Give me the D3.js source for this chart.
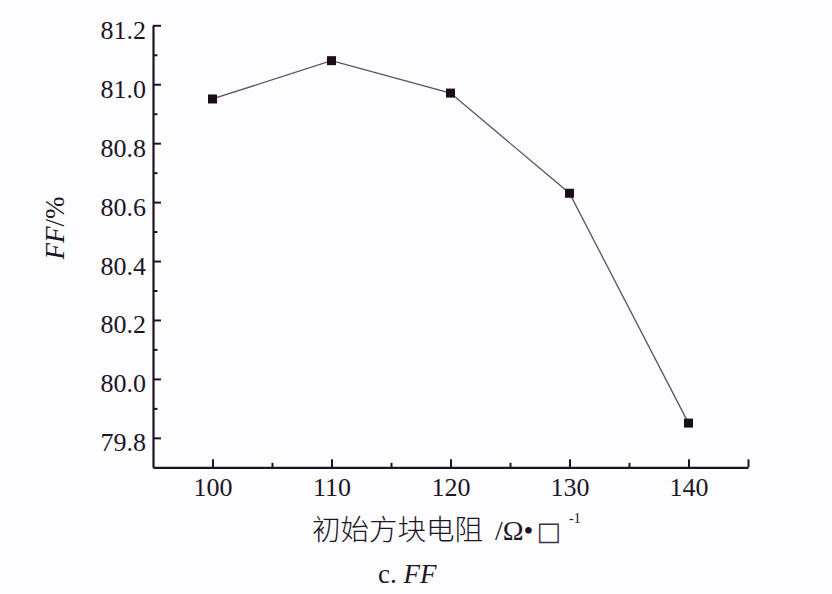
<!DOCTYPE html>
<html>
<head>
<meta charset="utf-8">
<script src="https://cdn.jsdelivr.net/npm/d3@7/dist/d3.min.js"></script>
<style>
html,body{margin:0;padding:0;background:#fdfdff;}
svg{display:block;}
</style>
</head>
<body>
<svg id="chart" width="832" height="594"></svg>
<script>
const resistance = [100, 110, 120, 130, 140];
const ffValues = [80.95, 81.08, 80.97, 80.63, 79.85];
const xMajorTicks = [100, 110, 120, 130, 140];
const xMinorTicks = [105, 115, 125, 135];
const yMajorTicks = [79.8, 80.0, 80.2, 80.4, 80.6, 80.8, 81.0, 81.2];
const yMinorTicks = [79.9, 80.1, 80.3, 80.5, 80.7, 80.9, 81.1];

const ink = "#1e1426";
const serif = "Liberation Serif";
const svg = d3.select("#chart");
const padL = 153, padR = 748, padT = 25.3, padB = 467.3;

const x = d3.scaleLinear().domain([95, 145]).range([padL, padR]);
const y = d3.scaleLinear().domain([79.7, 81.2]).range([padB, padT]);

// Y axis
const yAxis = svg.append("g").attr("transform", `translate(${padL},0)`)
  .call(d3.axisLeft(y).tickValues(yMajorTicks).tickFormat(d3.format(".1f"))
    .tickSizeInner(-8).tickSizeOuter(0).tickPadding(7));
yAxis.select(".domain").attr("stroke", ink).attr("stroke-width", 2.2);
yAxis.selectAll(".tick line").attr("stroke", ink).attr("stroke-width", 2);
yAxis.selectAll(".tick text").attr("fill", ink).attr("dy", "0.5em")
  .style("font-family", serif).style("font-size", "26px");

svg.append("g").attr("transform", `translate(${padL},0)`)
  .call(d3.axisLeft(y).tickValues(yMinorTicks).tickFormat("").tickSizeInner(-4.5).tickSizeOuter(0))
  .call(g => g.select(".domain").remove())
  .call(g => g.selectAll(".tick line").attr("stroke", ink).attr("stroke-width", 2));

// X axis
const xAxis = svg.append("g").attr("transform", `translate(0,${padB})`)
  .call(d3.axisBottom(x).tickValues(xMajorTicks).tickFormat(d3.format("d"))
    .tickSizeInner(-8).tickSizeOuter(0).tickPadding(10));
xAxis.select(".domain").attr("stroke", ink).attr("stroke-width", 2.2);
xAxis.selectAll(".tick line").attr("stroke", ink).attr("stroke-width", 2);
xAxis.selectAll(".tick text").attr("fill", ink)
  .style("font-family", serif).style("font-size", "26px");

svg.append("g").attr("transform", `translate(0,${padB})`)
  .call(d3.axisBottom(x).tickValues(xMinorTicks).tickFormat("").tickSizeInner(-4.5).tickSizeOuter(0))
  .call(g => g.select(".domain").remove())
  .call(g => g.selectAll(".tick line").attr("stroke", ink).attr("stroke-width", 2));

svg.append("g").attr("transform", `translate(0,${padB})`)
  .call(d3.axisBottom(x).tickValues([145]).tickFormat("").tickSizeInner(-8).tickSizeOuter(0))
  .call(g => g.select(".domain").remove())
  .call(g => g.selectAll(".tick line").attr("stroke", ink).attr("stroke-width", 2));

// Line
const pts = resistance.map((r, i) => [r, ffValues[i]]);
svg.append("path").datum(pts)
  .attr("fill", "none").attr("stroke", "#58525c").attr("stroke-width", 1.3)
  .attr("d", d3.line().x(d => x(d[0])).y(d => y(d[1])));

// Markers
const ms = 9;
svg.selectAll("rect.m").data(pts).enter().append("rect")
  .attr("class", "m")
  .attr("x", d => x(d[0]) - ms / 2).attr("y", d => y(d[1]) - ms / 2)
  .attr("width", ms).attr("height", ms).attr("fill", "#1a0e18");

// Y title
const yt = svg.append("text")
  .attr("transform", "translate(64,228) rotate(-90)")
  .attr("text-anchor", "middle").attr("fill", ink)
  .style("font-family", serif).style("font-size", "27px");
yt.append("tspan").style("font-style", "italic").text("FF");
yt.append("tspan").text("/%");

// X title
const xt = svg.append("text").attr("x", 312).attr("y", 540).attr("fill", ink);
xt.append("tspan").style("font-family", "Noto Sans CJK SC")
  .style("font-size", "28.5px").style("font-weight", "300").text("初始方块电阻");
xt.append("tspan").style("font-family", serif).style("font-size", "28px")
  .attr("dx", 12).text("/Ω•");
xt.append("tspan").style("font-family", "DejaVu Sans").style("font-size", "26px")
  .attr("fill", "#3c3444").attr("dx", 3).text("□");
xt.append("tspan").style("font-family", serif)
  .style("font-size", "14px").attr("dx", 8).attr("dy", -17).text("-1");

// Caption
const cap = svg.append("text").attr("x", 378).attr("y", 583).attr("fill", ink)
  .style("font-family", serif).style("font-size", "27px");
cap.append("tspan").text("c. ");
cap.append("tspan").style("font-style", "italic").text("FF");
</script>
</body>
</html>
